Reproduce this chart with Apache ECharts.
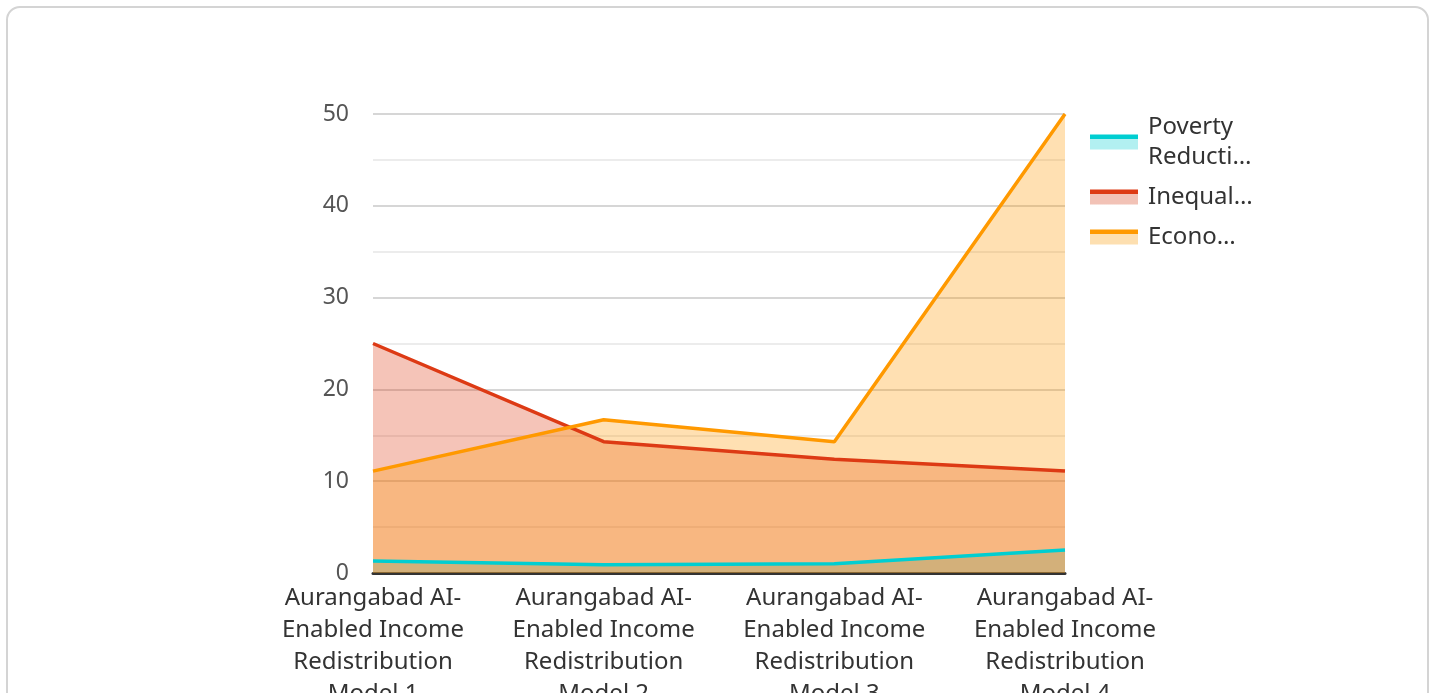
<!DOCTYPE html>
<html><head><meta charset="utf-8">
<script src="https://cdn.jsdelivr.net/npm/echarts@6/dist/echarts.min.js"></script>
<style>
html,body{margin:0;padding:0;background:#fff;width:1434px;height:693px;overflow:hidden;}
#card{position:absolute;left:6px;top:6px;width:1423px;height:740px;border:2px solid #d4d4d4;border-radius:14px;box-sizing:border-box;}
#chart{position:absolute;left:0;top:0;width:1434px;height:693px;}
</style></head>
<body>
<div id="card"></div>
<div id="chart"></div>
<script>
const categories = [
  'Aurangabad AI-Enabled Income Redistribution Model 1',
  'Aurangabad AI-Enabled Income Redistribution Model 2',
  'Aurangabad AI-Enabled Income Redistribution Model 3',
  'Aurangabad AI-Enabled Income Redistribution Model 4'
];
const seriesNames = ['Poverty Reduction (%)', 'Inequality Index', 'Economic Growth (%)'];
const legendLabels = ['Poverty\nReducti…', 'Inequal…', 'Econo…'];
const povertyReduction = [1.3, 0.9, 1.0, 2.5];
const inequalityIndex = [25.0, 14.3, 12.4, 11.1];
const economicGrowth = [11.1, 16.7, 14.3, 50.0];
const colors = ['#00CED1', '#DD3A14', '#FF9900'];
const lightColors = ['#B2F0F1', '#F2C2B6', '#FDDFB0'];

const chart = echarts.init(document.getElementById('chart'), null, {renderer:'canvas'});
const mk = (i, data) => ({
  name: seriesNames[i], type: 'line', data: data,
  symbol: 'none', smooth: false,
  lineStyle: {width: 3.5, color: colors[i]},
  itemStyle: {color: colors[i]},
  areaStyle: {color: colors[i], opacity: 0.3}
});
const legendIcon = i => new echarts.graphic.LinearGradient(0, 0, 0, 1, [
  {offset: 0, color: colors[i]}, {offset: 0.27, color: colors[i]},
  {offset: 0.27, color: lightColors[i]}, {offset: 1, color: lightColors[i]}
]);
chart.setOption({
  animation: false,
  backgroundColor: 'transparent',
  textStyle: {fontFamily: 'Noto Sans'},
  grid: {left: 373, right: 369, top: 114, bottom: 120, containLabel: false, outerBoundsMode: 'none'},
  legend: {
    orient: 'vertical', left: 1090, top: 112, padding: 0,
    itemWidth: 48, itemHeight: 15, itemGap: 10, icon: 'rect',
    data: seriesNames.map((n, i) => ({name: n, icon: 'rect', itemStyle: {color: legendIcon(i), borderWidth: 0}})),
    formatter: name => legendLabels[seriesNames.indexOf(name)],
    textStyle: {fontSize: 24, color: '#333', lineHeight: 30, fontFamily: 'Noto Sans', padding: [0,0,0,5]}
  },
  xAxis: {
    type: 'category', data: categories, boundaryGap: false,
    axisLine: {show: true, lineStyle: {color: '#333', width: 3}},
    axisTick: {show: false},
    splitLine: {show: false},
    axisLabel: {
      interval: 0, fontSize: 24, color: '#333', lineHeight: 32, margin: 9,
      fontFamily: 'Noto Sans',
      formatter: v => v.replace('AI-', 'AI-\n').replace('Income ', 'Income\n').replace('Redistribution ', 'Redistribution\n')
    }
  },
  yAxis: {
    type: 'value', min: 0, max: 50, interval: 10,
    axisLine: {show: false}, axisTick: {show: false},
    axisLabel: {fontSize: 23, color: '#555', margin: 24, fontFamily: 'Noto Sans'},
    splitLine: {lineStyle: {color: '#c8c8c8', width: 1.5}},
    minorTick: {show: false, splitNumber: 2},
    minorSplitLine: {show: true, lineStyle: {color: '#e6e6e6', width: 1.5}}
  },
  series: [mk(0, povertyReduction), mk(1, inequalityIndex), mk(2, economicGrowth)]
});
</script>
</body></html>
